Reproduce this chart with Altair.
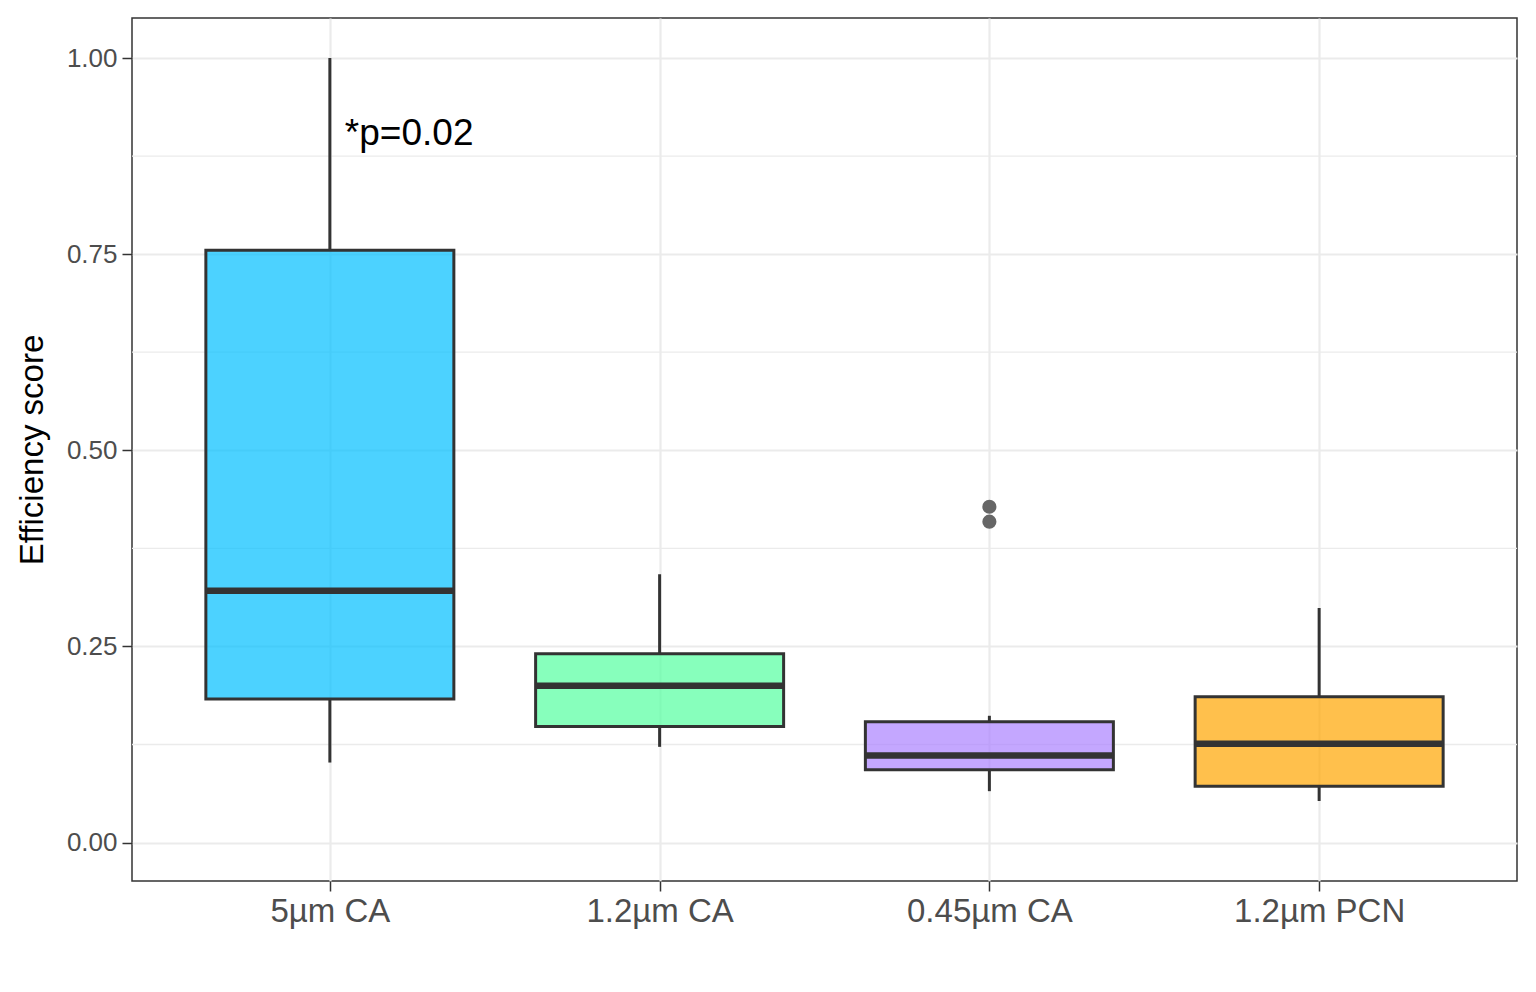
import pandas as pd
import altair as alt

# Box statistics
groups = ["5µm CA", "1.2µm CA", "0.45µm CA", "1.2µm PCN"]
whisker_low = [0.102, 0.122, 0.0655, 0.053]
q1 = [0.183, 0.148, 0.0927, 0.0719]
median = [0.321, 0.200, 0.111, 0.126]
q3 = [0.755, 0.2406, 0.154, 0.186]
whisker_high = [1.0, 0.342, 0.1616, 0.299]
fills = ["#00BFFF", "#54FF9F", "#AB82FF", "#FFA500"]

outlier_group = ["0.45µm CA", "0.45µm CA"]
outlier_value = [0.428, 0.409]

minor_grid = [0.125, 0.375, 0.625, 0.875]

note_group = ["5µm CA"]
note_value = [0.889]
note_text = ["*p=0.02"]

boxes = pd.DataFrame({
    "group": groups, "lo": whisker_low, "q1": q1,
    "med": median, "q3": q3, "hi": whisker_high,
})
outliers = pd.DataFrame({"group": outlier_group, "value": outlier_value})
minor = pd.DataFrame({"v": minor_grid})
note = pd.DataFrame({"group": note_group, "value": note_value, "label": note_text})

FONT = "Liberation Sans"
DARK = "#333333"

x_enc = alt.X(
    "group:N", sort=groups, title=None,
    scale=alt.Scale(type="point", padding=0.6),
    axis=alt.Axis(labelFontSize=33, labelColor="#4D4D4D", labelPadding=4,
                  tickSize=10, tickWidth=1.5, tickColor=DARK,
                  grid=True, gridColor="#EBEBEB", gridWidth=2.2,
                  domain=False, labelAngle=0),
)
y_scale = alt.Scale(domain=[-0.049, 1.051], nice=False, zero=False)
y_axis = alt.Axis(values=[0, 0.25, 0.5, 0.75, 1.0], format=".2f",
                  labelFontSize=26, labelColor="#4D4D4D", labelPadding=5,
                  tickSize=10, tickWidth=1.5, tickColor=DARK,
                  grid=True, gridColor="#EBEBEB", gridWidth=2.2, domain=False,
                  title="Efficiency score", titleFontSize=33, titleColor="#000000",
                  titleFontWeight="normal", titleX=-100, titleY=431.5,
                  titleAlign="center", titleBaseline="middle", titleAngle=-90)
color_enc = alt.Color("group:N", scale=alt.Scale(domain=groups, range=fills), legend=None)

minor_rules = alt.Chart(minor).mark_rule(color="#EBEBEB", strokeWidth=1.3).encode(
    y=alt.Y("v:Q", scale=y_scale, axis=y_axis)
)

whisk_low = alt.Chart(boxes).mark_rule(color=DARK, strokeWidth=3).encode(
    x=x_enc, y=alt.Y("lo:Q", scale=y_scale), y2="q1:Q"
)
whisk_high = alt.Chart(boxes).mark_rule(color=DARK, strokeWidth=3).encode(
    x=x_enc, y=alt.Y("q3:Q", scale=y_scale), y2="hi:Q"
)

box = alt.Chart(boxes).mark_bar(
    size=248, fillOpacity=0.7, stroke=DARK, strokeWidth=3, strokeOpacity=1
).encode(
    x=x_enc, y=alt.Y("q1:Q", scale=y_scale), y2="q3:Q", color=color_enc
)

med = alt.Chart(boxes).mark_tick(color=DARK, size=248, thickness=6.5, opacity=1).encode(
    x=x_enc, y=alt.Y("med:Q", scale=y_scale)
)

pts = alt.Chart(outliers).mark_circle(color="#666666", size=200, opacity=1).encode(
    x=x_enc, y=alt.Y("value:Q", scale=y_scale)
)

label = alt.Chart(note).mark_text(
    align="left", baseline="alphabetic", dx=15, fontSize=37, font=FONT, color="#000000"
).encode(
    x=x_enc, y=alt.Y("value:Q", scale=y_scale), text="label:N"
)

chart = alt.layer(minor_rules, whisk_low, whisk_high, box, med, pts, label).properties(
    width=1385,
    height=863,
    autosize=alt.AutoSizeParams(type="none"),
    padding={"left": 124, "top": 10, "right": 11, "bottom": 100},
    background="white",
).configure_view(
    stroke=DARK, strokeWidth=1.5
).configure_axis(
    labelFont=FONT, titleFont=FONT
)

chart.save("out.html", embed_options={"renderer": "svg", "actions": False})
